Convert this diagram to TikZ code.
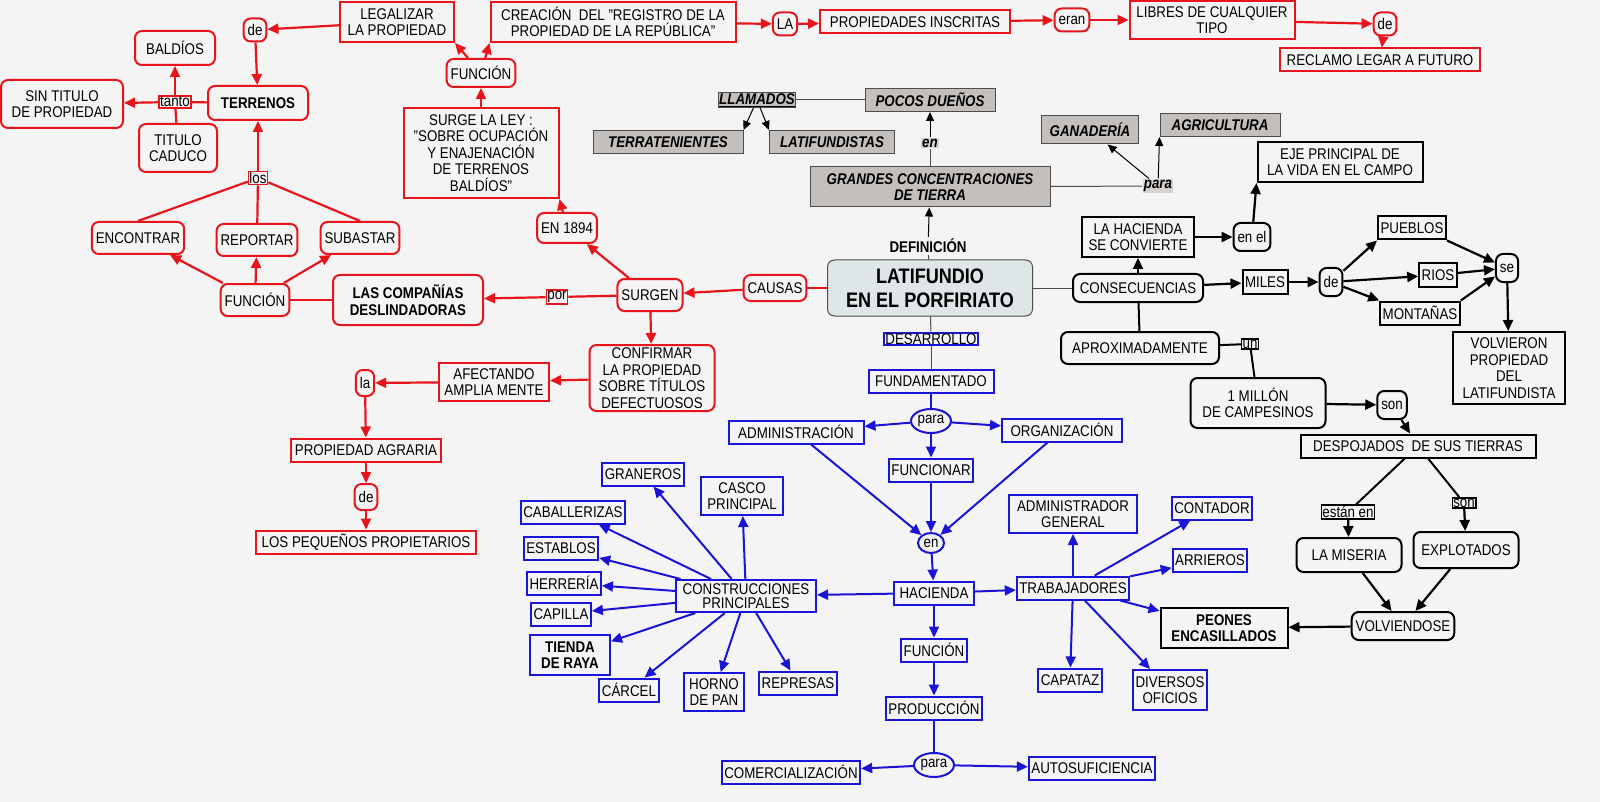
\documentclass[tikz,border=0pt]{standalone}
\usepackage{fontspec}
\setmainfont{Liberation Sans}[FakeStretch=0.86]
\usetikzlibrary{arrows.meta,shapes.geometric}
\definecolor{rd}{HTML}{E8141B}
\definecolor{bl}{HTML}{1A14D6}
\definecolor{gy}{HTML}{C3BFBC}
\definecolor{bgc}{HTML}{F4F4F4}
\definecolor{lat}{HTML}{DFE6E8}
\newcommand{\fs}{\fontsize{15.5}{16.5}\selectfont}
\tikzset{
 base/.style={font=\fs, align=center, inner sep=2.5pt, line width=2pt, minimum height=23},
 S/.style={inner sep=1pt, line width=1.5pt, minimum height=0},
 R/.style={base, draw=rd, rounded corners=7pt, inner xsep=4pt},
 RR/.style={base, draw=rd},
 K/.style={base, draw=black, rounded corners=7pt, inner xsep=4pt},
 KR/.style={base, draw=black},
 B/.style={base, draw=bl},
 BE/.style={base, draw=bl, ellipse, inner sep=0pt},
 G/.style={base, draw=black!70, line width=1pt, fill=gy, font=\fs\bfseries\itshape},
 tip/.style={-{Triangle[length=11pt,width=10pt]}},
 ra/.style={draw=rd, line width=2.2pt, tip},
 rl/.style={draw=rd, line width=2.2pt},
 ka/.style={draw=black, line width=2.2pt, tip},
 kl/.style={draw=black, line width=2pt},
 ta/.style={draw=black, line width=1pt, -{Triangle[length=9pt,width=8pt]}},
 tl/.style={draw=black!70, line width=1pt},
 ba/.style={draw=bl, line width=2pt, tip},
 bll/.style={draw=bl, line width=2pt},
}
\begin{document}
\begin{tikzpicture}[x=1pt,y=-1pt]
\fill[bgc] (0,0) rectangle (1600,802);
\useasboundingbox (0,0) rectangle (1600,802);
% red nodes
\node[R] (de1) at (255,30) {de};
\node[RR,minimum width=114,minimum height=40] (legal) at (397,22) {LEGALIZAR\\LA PROPIEDAD};
\node[RR,minimum width=245,minimum height=40] (creacion) at (613,22) {CREACIÓN\ \ DEL "REGISTRO DE LA\\PROPIEDAD DE LA REPÚBLICA"};
\node[R] (la1) at (785,24) {LA};
\node[RR,minimum width=190] (inscritas) at (915,22) {PROPIEDADES INSCRITAS};
\node[R] (eran) at (1072,20) {eran};
\node[RR,minimum width=165,minimum height=38] (libres) at (1212,20) {LIBRES DE CUALQUIER\\TIPO};
\node[R] (de2) at (1385,24) {de};
\node[RR,minimum width=200] (reclamo) at (1380,60) {RECLAMO LEGAR A FUTURO};
\node[R,minimum height=28] (funcion1) at (481,73) {FUNCIÓN};
\node[RR,minimum width=155,minimum height=90] (ley) at (481,153) {SURGE LA LEY :\\"SOBRE OCUPACIÓN\\Y ENAJENACIÓN\\DE TERRENOS\\BALDÍOS"};
\node[R,minimum width=80,minimum height=34] (baldios) at (175,48) {BALDÍOS};
\node[R,minimum width=100,minimum height=34,font=\fs\bfseries] (terrenos) at (258,103) {TERRENOS};
\node[RR,S] (tanto) at (175,102) {tanto};
\node[R,minimum width=122,minimum height=48] (sintitulo) at (62,104) {SIN TITULO\\DE PROPIEDAD};
\node[R,minimum width=78,minimum height=48] (caduco) at (178,148) {TITULO\\CADUCO};
\node[RR,S] (los) at (258,178) {los};
\node[R,minimum height=32] (encontrar) at (138,238) {ENCONTRAR};
\node[R,minimum height=32] (reportar) at (257,240) {REPORTAR};
\node[R,minimum height=32] (subastar) at (360,238) {SUBASTAR};
\node[R,minimum height=32] (funcion2) at (255,300) {FUNCIÓN};
\node[R,minimum width=150,minimum height=50,font=\fs\bfseries] (companias) at (408,300) {LAS COMPAÑÍAS\\DESLINDADORAS};
\node[RR,S] (por) at (557,297) {por};
\node[R,minimum height=32] (surgen) at (650,295) {SURGEN};
\node[R,minimum height=30] (en1894) at (567,228) {EN 1894};
\node[R,minimum height=26] (causas) at (775,288) {CAUSAS};
\node[R,minimum width=125,minimum height=66] (confirmar) at (652,378) {CONFIRMAR\\LA PROPIEDAD\\SOBRE TÍTULOS\\DEFECTUOSOS};
\node[RR,minimum width=110,minimum height=38] (afectando) at (494,382) {AFECTANDO\\AMPLIA MENTE};
\node[R,minimum height=26] (la2) at (365,383) {la};
\node[RR,minimum width=150] (agraria) at (366,450) {PROPIEDAD AGRARIA};
\node[R,minimum height=26] (de3) at (366,497) {de};
\node[RR,minimum width=220] (pequenos) at (366,542) {LOS PEQUEÑOS PROPIETARIOS};
% black / gray
\node[base,draw=black!70,line width=1pt,rounded corners=7pt,fill=lat,font=\fontsize{21}{24}\selectfont\bfseries,minimum width=205,minimum height=56] (lat) at (930,288) {LATIFUNDIO\\EN EL PORFIRIATO};
\node[font=\fs\bfseries,inner sep=2pt] (definicion) at (928,246) {DEFINICIÓN};
\node[G,minimum width=240,minimum height=40] (grandes) at (930,187) {GRANDES CONCENTRACIONES\\DE TIERRA};
\node[G,S,draw=none,fill=gy!70] (en0) at (930,143) {en};
\node[G,minimum width=130] (pocos) at (930,100) {POCOS DUEÑOS};
\node[G,S,line width=1pt] (llamados) at (757,100) {\underline{LLAMADOS}};
\node[G,minimum width=150] (terra) at (668,142) {TERRATENIENTES};
\node[G,minimum width=125] (latif) at (832,142) {LATIFUNDISTAS};
\node[G,minimum width=97,minimum height=28] (ganaderia) at (1090,130) {GANADERÍA};
\node[G,minimum width=120] (agricultura) at (1220,125) {AGRICULTURA};
\node[G,S,draw=none,fill=gy!70] (para1) at (1158,186) {para};
\node[KR,minimum width=165,minimum height=40] (eje) at (1340,162) {EJE PRINCIPAL DE\\LA VIDA EN EL CAMPO};
\node[KR,minimum width=112,minimum height=40] (hconv) at (1138,237) {LA HACIENDA\\SE CONVIERTE};
\node[K,minimum height=28] (enel) at (1252,237) {en el};
\node[K,minimum width=130,minimum height=28] (consec) at (1138,288) {CONSECUENCIAS};
\node[KR] (miles) at (1265,282) {MILES};
\node[K,minimum height=28] (de4) at (1331,282) {de};
\node[KR] (pueblos) at (1412,228) {PUEBLOS};
\node[KR] (rios) at (1438,275) {RIOS};
\node[KR] (montanas) at (1420,313) {MONTAÑAS};
\node[K,minimum height=28] (se) at (1507,268) {se};
\node[KR,minimum width=112,minimum height=72] (volvieron) at (1509,368) {VOLVIERON\\PROPIEDAD\\DEL\\LATIFUNDISTA};
\node[K,minimum width=158,minimum height=32] (aprox) at (1140,348) {APROXIMADAMENTE};
\node[KR,S] (un) at (1250,344) {un};
\node[K,minimum width=135,minimum height=50] (millon) at (1258,403) {1 MILLÓN\\DE CAMPESINOS};
\node[K,minimum height=28] (son1) at (1392,405) {son};
\node[KR,minimum width=235] (despojados) at (1418,446) {DESPOJADOS\ \ DE SUS TIERRAS};
\node[KR,S] (estan) at (1348,512) {están en};
\node[KR,S] (son2) at (1464,503) {son};
\node[K,minimum width=105,minimum height=34] (miseria) at (1349,555) {LA MISERIA};
\node[K,minimum width=105,minimum height=36] (explotados) at (1466,550) {EXPLOTADOS};
\node[K,minimum width=100,minimum height=28] (volviendose) at (1403,626) {VOLVIENDOSE};
\node[KR,minimum width=127,minimum height=40,font=\fs\bfseries] (peones) at (1224,628) {PEONES\\ENCASILLADOS};
% blue
\node[B,S,line width=2pt] (desarrollo) at (931,339) {DESARROLLO};
\node[B,minimum width=125] (fundamentado) at (931,381) {FUNDAMENTADO};
\node[BE,minimum width=40,minimum height=24] (para2) at (931,421) {para};
\node[B,minimum width=135] (admin) at (796,432) {ADMINISTRACIÓN};
\node[B,minimum width=120] (organizacion) at (1062,430) {ORGANIZACIÓN};
\node[B] (funcionar) at (931,470) {FUNCIONAR};
\node[BE,minimum width=26,minimum height=20] (en2) at (931,543) {en};
\node[B,minimum width=80] (hacienda) at (934,593) {HACIENDA};
\node[B,minimum width=110] (trab) at (1073,588) {TRABAJADORES};
\node[B,minimum width=140,minimum height=32] (constr) at (746,596) {CONSTRUCCIONES\\[-3pt]PRINCIPALES};
\node[B] (graneros) at (643,474) {GRANEROS};
\node[B,minimum width=82,minimum height=38] (casco) at (742,496) {CASCO\\PRINCIPAL};
\node[B] (caballerizas) at (573,512) {CABALLERIZAS};
\node[B] (establos) at (561,548) {ESTABLOS};
\node[B] (herreria) at (564,583) {HERRERÍA};
\node[B] (capilla) at (561,614) {CAPILLA};
\node[B,minimum width=80,minimum height=40,font=\fs\bfseries] (tienda) at (570,655) {TIENDA\\DE RAYA};
\node[B] (carcel) at (629,690) {CÁRCEL};
\node[B,minimum width=60,minimum height=38] (horno) at (714,692) {HORNO\\DE PAN};
\node[B] (represas) at (798,683) {REPRESAS};
\node[B] (funcion3) at (934,650) {FUNCIÓN};
\node[B] (produccion) at (934,708) {PRODUCCIÓN};
\node[BE,minimum width=40,minimum height=24] (para3) at (934,765) {para};
\node[B] (comerc) at (791,772) {COMERCIALIZACIÓN};
\node[B] (autos) at (1092,768) {AUTOSUFICIENCIA};
\node[B,minimum width=128,minimum height=38] (admgen) at (1073,514) {ADMINISTRADOR\\GENERAL};
\node[B] (contador) at (1212,508) {CONTADOR};
\node[B] (arrieros) at (1210,560) {ARRIEROS};
\node[B] (capataz) at (1070,680) {CAPATAZ};
\node[B,minimum width=74,minimum height=40] (diversos) at (1170,690) {DIVERSOS\\OFICIOS};
% red edges
\draw[ra] (legal) -- (de1);
\draw[ra] (de1) -- (terrenos);
\draw[ra] (funcion1) -- (legal.south east);
\draw[ra] (funcion1) -- (creacion.south west);
\draw[ra] (creacion) -- (la1);
\draw[ra] (la1) -- (inscritas);
\draw[ra] (inscritas) -- (eran);
\draw[ra] (eran) -- (libres);
\draw[ra] (libres) -- (de2);
\draw[ra] (de2) -- (reclamo);
\draw[ra] (ley) -- (funcion1);
\draw[ra] (en1894) -- (ley.south east);
\draw[ra] (surgen) -- (en1894);
\draw[rl] (lat) -- (causas);
\draw[ra] (causas) -- (surgen);
\draw[rl] (surgen) -- (por);
\draw[ra] (por) -- (companias);
\draw[rl] (companias) -- (funcion2);
\draw[ra] (funcion2) -- (encontrar);
\draw[ra] (funcion2) -- (reportar);
\draw[ra] (funcion2) -- (subastar);
\draw[rl] (encontrar.north) -- (los);
\draw[rl] (reportar) -- (los);
\draw[rl] (subastar.north) -- (los);
\draw[ra] (los) -- (terrenos);
\draw[rl] (terrenos) -- (tanto);
\draw[rl] (caduco) -- (tanto);
\draw[ra] (tanto) -- (baldios);
\draw[ra] (tanto) -- (sintitulo);
\draw[ra] (surgen) -- (confirmar);
\draw[ra] (confirmar) -- (afectando);
\draw[ra] (afectando) -- (la2);
\draw[ra] (la2) -- (agraria);
\draw[ra] (agraria) -- (de3);
\draw[ra] (de3) -- (pequenos);
% black edges
\draw[tl] (lat) -- (definicion);
\draw[ta] (definicion) -- (grandes);
\draw[tl] (grandes) -- (en0);
\draw[ta] (en0) -- (pocos);
\draw[tl] (pocos) -- (llamados);
\draw[ta] (llamados) -- (terra.north east);
\draw[ta] (llamados) -- (latif.north west);
\draw[tl] (grandes) -- (para1);
\draw[ta] (para1) -- (ganaderia);
\draw[ta] (para1) -- (agricultura.south west);
\draw[tl] (lat) -- (consec);
\draw[ka] (consec) -- (hconv);
\draw[ka] (hconv) -- (enel);
\draw[ka] (enel) -- (eje.south west);
\draw[ka] (consec) -- (miles);
\draw[ka] (miles) -- (de4);
\draw[ka] (de4) -- (pueblos.south west);
\draw[ka] (de4) -- (rios);
\draw[ka] (de4) -- (montanas.north west);
\draw[ka] (pueblos.south east) -- (se);
\draw[ka] (rios) -- (se);
\draw[ka] (montanas.north east) -- (se);
\draw[ka] (se) -- (volvieron);
\draw[kl] (consec) -- (aprox);
\draw[kl] (aprox) -- (un);
\draw[kl] (un) -- (millon);
\draw[ka] (millon) -- (son1);
\draw[ka] (son1) -- (despojados);
\draw[kl] (despojados) -- (estan);
\draw[ka] (estan) -- (miseria);
\draw[kl] (despojados) -- (son2);
\draw[ka] (son2) -- (explotados);
\draw[ka] (miseria) -- (volviendose);
\draw[ka] (explotados) -- (volviendose);
\draw[ka] (volviendose) -- (peones);
% blue edges
\draw[tl] (lat) -- (desarrollo);
\draw[tl] (desarrollo) -- (fundamentado);
\draw[bll] (fundamentado) -- (para2);
\draw[ba] (para2) -- (admin);
\draw[ba] (para2) -- (organizacion);
\draw[ba] (para2) -- (funcionar);
\draw[ba] (admin) -- (en2);
\draw[ba] (organizacion) -- (en2);
\draw[ba] (funcionar) -- (en2);
\draw[ba] (en2) -- (hacienda);
\draw[ba] (hacienda) -- (constr);
\draw[ba] (hacienda) -- (trab);
\draw[ba] (hacienda) -- (funcion3);
\foreach \t in {graneros,casco,caballerizas,establos,herreria,capilla,tienda,carcel,horno,represas}
  \draw[ba] (constr) -- (\t);
\foreach \t in {admgen,contador,arrieros,capataz,diversos,peones}
  \draw[ba] (trab) -- (\t);
\draw[ba] (funcion3) -- (produccion);
\draw[bll] (produccion) -- (para3);
\draw[ba] (para3) -- (comerc);
\draw[ba] (para3) -- (autos);
\end{tikzpicture}
\end{document}
